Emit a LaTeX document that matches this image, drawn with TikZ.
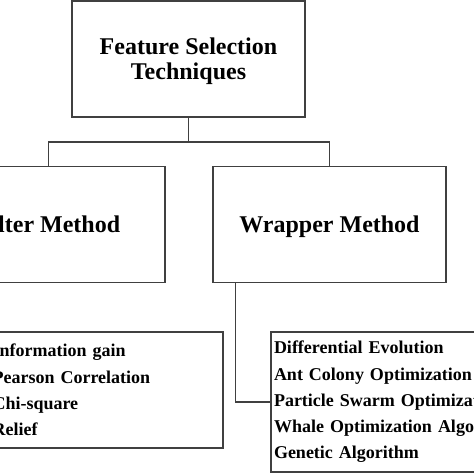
\documentclass[tikz,border=0pt]{standalone}
\usepackage{fontspec}
\setmainfont{Liberation Serif}
\usepackage{tikz}

\begin{document}
\begin{tikzpicture}[x=1pt,y=-1pt,
  box/.style={draw=black!75,line width=1.2pt,fill=white,minimum width=233pt,minimum height=116pt,text depth=0pt,align=center,font=\bfseries\fontsize{24}{25}\selectfont},
  listbox/.style={draw=black!75,line width=1.2pt,inner xsep=3pt,inner ysep=0pt,align=left,font=\bfseries\fontsize{18}{26.3}\selectfont},
  link/.style={draw=black!75,line width=1.2pt}]
\useasboundingbox (0,0) rectangle (474,474);
\clip (0,0) rectangle (474,474);
% headings
\node[box] (fst) at (188.5,59) {Feature Selection\\Techniques};
\node[box] (filter) at (48.5,224.5) {Filter Method};
\node[box] (wrapper) at (329.5,224.5) {Wrapper Method};
% lists
\node[listbox,text width=227.5pt,minimum height=116pt] (filterlist) at (106.3,390)
  {Information gain\\Pearson Correlation\\Chi-square\\Relief};
\node[listbox,text width=254pt,minimum height=140pt] (wrapperlist) at (401,402)
  {Differential Evolution\\Ant Colony Optimization\\Particle Swarm Optimization\\Whale Optimization Algorithm\\Genetic Algorithm};
% connectors
\coordinate (split) at (188.5,142);
\coordinate (tap) at ([xshift=23pt]wrapper.south west);
\draw[link] (fst.south) -- (split);
\draw[link] (filter.north) |- (split) -| (wrapper.north);
\draw[link] (tap) |- (wrapperlist.west);
\end{tikzpicture}
\end{document}
